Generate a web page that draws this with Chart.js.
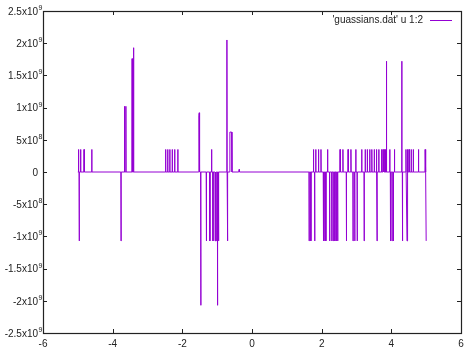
<!DOCTYPE html>
<html>
<head>
<meta charset="utf-8">
<script src="https://cdn.jsdelivr.net/npm/chart.js@4/dist/chart.umd.min.js"></script>
<style>
  html, body { margin: 0; padding: 0; background: #fff; }
</style>
</head>
<body>
<canvas id="plot" width="474" height="355"></canvas>
<script>
// x / y samples (each spike rises from and falls back to 0)
const xs = [
  -5.0,
  -4.985, -4.98, -4.975,
  -4.965, -4.96, -4.955,
  -4.925, -4.92, -4.915,
  -4.825, -4.82, -4.815,
  -4.605, -4.6, -4.595,
  -3.765, -3.76, -3.755,
  -3.665, -3.66, -3.655,
  -3.625, -3.62, -3.615,
  -3.445, -3.44, -3.435,
  -3.405, -3.4, -3.395,
  -2.485, -2.48, -2.475,
  -2.425, -2.42, -2.415,
  -2.365, -2.36, -2.355,
  -2.295, -2.29, -2.285,
  -2.225, -2.22, -2.215,
  -2.135, -2.13, -2.125,
  -1.535, -1.525, -1.515, -1.505,
  -1.475, -1.47, -1.465,
  -1.315, -1.31, -1.305,
  -1.215, -1.21, -1.205,
  -1.165, -1.16, -1.155,
  -1.125, -1.12, -1.115,
  -1.065, -1.06, -1.055,
  -1.035, -1.03, -1.025,
  -0.995, -0.99, -0.985,
  -0.965, -0.96, -0.955,
  -0.725, -0.72, -0.715,
  -0.705, -0.7, -0.695,
  -0.645, -0.635, -0.585, -0.575,
  -0.38, -0.37, -0.36,
  1.635, 1.64, 1.645,
  1.685, 1.69, 1.695,
  1.76, 1.765, 1.77,
  1.795, 1.8, 1.805,
  1.825, 1.83, 1.835,
  1.905, 1.91, 1.915,
  1.975, 1.98, 1.985,
  2.045, 2.05, 2.055,
  2.085, 2.09, 2.095,
  2.115, 2.12, 2.125,
  2.165, 2.17, 2.175,
  2.225, 2.23, 2.235,
  2.285, 2.29, 2.295,
  2.325, 2.33, 2.335,
  2.375, 2.38, 2.385,
  2.415, 2.42, 2.425,
  2.455, 2.46, 2.465,
  2.525, 2.53, 2.535,
  2.605, 2.61, 2.615,
  2.705, 2.71, 2.715,
  2.755, 2.76, 2.765,
  2.835, 2.84, 2.845,
  2.895, 2.9, 2.905,
  2.945, 2.95, 2.955,
  2.975, 2.98, 2.985,
  3.015, 3.02, 3.025,
  3.145, 3.15, 3.155,
  3.215, 3.22, 3.225,
  3.245, 3.25, 3.255,
  3.305, 3.31, 3.315,
  3.375, 3.38, 3.385,
  3.435, 3.44, 3.445,
  3.505, 3.51, 3.515,
  3.565, 3.57, 3.575,
  3.585, 3.59, 3.595,
  3.635, 3.64, 3.645,
  3.715, 3.72, 3.725,
  3.755, 3.76, 3.765,
  3.785, 3.79, 3.795,
  3.825, 3.83, 3.835,
  3.855, 3.86, 3.865,
  3.95, 3.955, 3.96,
  3.97, 3.975, 3.98,
  4.015, 4.02, 4.025,
  4.055, 4.06, 4.065,
  4.085, 4.09, 4.095,
  4.295, 4.3, 4.305,
  4.315, 4.32, 4.325,
  4.415, 4.42, 4.425,
  4.445, 4.45, 4.455,
  4.465, 4.47, 4.475,
  4.505, 4.51, 4.515,
  4.565, 4.57, 4.575,
  4.625, 4.63, 4.635,
  4.775, 4.78, 4.785,
  4.965, 4.97, 4.975,
  4.995, 5.0
];

const ys = [
  0,
  0, 3.5e8, 0,
  0, -1.07e9, 0,
  0, 3.5e8, 0,
  0, 3.5e8, 0,
  0, 3.5e8, 0,
  0, -1.07e9, 0,
  0, 1.02e9, 0,
  0, 1.02e9, 0,
  0, 1.76e9, 0,
  0, 1.93e9, 0,
  0, 3.5e8, 0,
  0, 3.5e8, 0,
  0, 3.5e8, 0,
  0, 3.5e8, 0,
  0, 3.5e8, 0,
  0, 3.5e8, 0,
  0, 8.8e8, 9.2e8, 0,
  0, -2.07e9, 0,
  0, -1.07e9, 0,
  0, -1.07e9, 0,
  0, 3.5e8, 0,
  0, -1.07e9, 0,
  0, -1.07e9, 0,
  0, -1.07e9, 0,
  0, -2.07e9, 0,
  0, -1.07e9, 0,
  0, 2.05e9, 0,
  0, -1.07e9, 0,
  0, 6.2e8, 6.2e8, 0,
  0, 4e7, 0,
  0, -1.07e9, 0,
  0, -1.07e9, 0,
  0, 3.5e8, 0,
  0, -1.07e9, 0,
  0, 3.5e8, 0,
  0, 3.5e8, 0,
  0, 3.5e8, 0,
  0, -1.07e9, 0,
  0, -1.07e9, 0,
  0, -1.07e9, 0,
  0, 3.5e8, 0,
  0, -1.07e9, 0,
  0, -1.07e9, 0,
  0, -1.07e9, 0,
  0, -1.07e9, 0,
  0, -1.07e9, 0,
  0, -1.07e9, 0,
  0, 3.5e8, 0,
  0, 3.5e8, 0,
  0, -1.07e9, 0,
  0, 3.5e8, 0,
  0, 3.5e8, 0,
  0, -1.07e9, 0,
  0, -1.07e9, 0,
  0, 3.5e8, 0,
  0, -1.07e9, 0,
  0, 3.5e8, 0,
  0, -1.07e9, 0,
  0, 3.5e8, 0,
  0, 3.5e8, 0,
  0, 3.5e8, 0,
  0, 3.5e8, 0,
  0, 3.5e8, 0,
  0, 3.5e8, 0,
  0, -1.07e9, 0,
  0, 3.5e8, 0,
  0, 3.5e8, 0,
  0, 3.5e8, 0,
  0, 3.5e8, 0,
  0, 3.5e8, 0,
  0, 1.72e9, 0,
  0, 3.5e8, 0,
  0, -1.07e9, 0,
  0, -1.07e9, 0,
  0, -1.07e9, 0,
  0, 3.5e8, 0,
  0, 1.72e9, 0,
  0, -1.07e9, 0,
  0, 3.5e8, 0,
  0, -1.07e9, 0,
  0, 3.5e8, 0,
  0, 3.5e8, 0,
  0, 3.5e8, 0,
  0, 3.5e8, 0,
  0, 3.5e8, 0,
  0, 3.5e8, 0,
  0, -1.07e9
];

const xTickValues = [-6, -4, -2, 0, 2, 4, 6];
const yTickValues = [2.5e9, 2e9, 1.5e9, 1e9, 5e8, 0, -5e8, -1e9, -1.5e9, -2e9, -2.5e9];
// mantissa part and exponent of each y tick label ("2.5x10" + superscript "9")
const yTickBase = ['2.5x10', '2x10', '1.5x10', '1x10', '5x10', '0',
                   '-5x10', '-1x10', '-1.5x10', '-2x10', '-2.5x10'];
const yTickExp = ['9', '9', '9', '9', '8', '', '8', '9', '9', '9', '9'];
const seriesLabel = "'guassians.dat' u 1:2";

const lineColor = '#9400d3';
const fontFamily = '"Liberation Sans", Arial, sans-serif';

const points = xs.map((x, i) => ({ x: x, y: ys[i] }));

// border, inward ticks on all four sides, y labels with superscripts, and the key
const gnuplotFrame = {
    id: 'gnuplotFrame',
    afterDatasetsDraw(chart) {
        const { ctx, chartArea: a, scales } = chart;
        const tl = 4;
        ctx.save();
        ctx.strokeStyle = '#222';
        ctx.lineWidth = 1;
        ctx.beginPath();
        xTickValues.forEach(v => {
            const px = Math.round(scales.x.getPixelForValue(v)) + 0.5;
            ctx.moveTo(px, a.bottom); ctx.lineTo(px, a.bottom - tl);
            ctx.moveTo(px, a.top); ctx.lineTo(px, a.top + tl);
        });
        yTickValues.forEach(v => {
            const py = Math.round(scales.y.getPixelForValue(v)) + 0.5;
            ctx.moveTo(a.left, py); ctx.lineTo(a.left + tl, py);
            ctx.moveTo(a.right, py); ctx.lineTo(a.right - tl, py);
        });
        ctx.stroke();
        ctx.lineWidth = 1.2;
        ctx.strokeRect(Math.round(a.left) + 0.5, Math.round(a.top) + 0.5,
                       Math.round(a.width), Math.round(a.height));

        // y tick labels
        ctx.fillStyle = '#222';
        ctx.textBaseline = 'middle';
        yTickValues.forEach((v, i) => {
            const py = scales.y.getPixelForValue(v);
            const right = a.left - 5;
            ctx.font = '10px ' + fontFamily;
            ctx.textAlign = 'right';
            ctx.fillText(yTickBase[i], right, py + 1);
            if (yTickExp[i]) {
                ctx.font = '7px ' + fontFamily;
                ctx.textAlign = 'left';
                ctx.fillText(yTickExp[i], right + 0.5, py - 3);
            }
        });

        // key
        ctx.font = '10px ' + fontFamily;
        ctx.textAlign = 'right';
        ctx.fillText(seriesLabel, 423, 20);
        ctx.strokeStyle = lineColor;
        ctx.lineWidth = 1;
        ctx.beginPath();
        ctx.moveTo(430, 20.5); ctx.lineTo(452, 20.5);
        ctx.stroke();
        ctx.restore();
    }
};

const chart = new Chart(document.getElementById('plot').getContext('2d'), {
    type: 'line',
    data: {
        datasets: [{
            label: seriesLabel,
            data: points,
            borderColor: lineColor,
            borderWidth: 1,
            pointRadius: 0,
            tension: 0,
            fill: false
        }]
    },
    options: {
        responsive: false,
        animation: false,
        devicePixelRatio: 1,
        layout: { padding: { top: 11, right: 13, left: 0, bottom: 0 } },
        plugins: {
            legend: { display: false },
            tooltip: { enabled: false }
        },
        scales: {
            x: {
                type: 'linear',
                min: -6,
                max: 6,
                grid: { display: false, drawTicks: false },
                border: { display: false },
                ticks: {
                    stepSize: 2,
                    maxRotation: 0,
                    padding: 5,
                    color: '#222',
                    font: { family: fontFamily, size: 10 }
                },
                afterFit(scale) { scale.height = 22; }
            },
            y: {
                type: 'linear',
                min: -2.5e9,
                max: 2.5e9,
                grid: { display: false, drawTicks: false },
                border: { display: false },
                ticks: { stepSize: 5e8, display: false },
                afterFit(scale) { scale.width = 43; }
            }
        }
    },
    plugins: [gnuplotFrame]
});
</script>
</body>
</html>
